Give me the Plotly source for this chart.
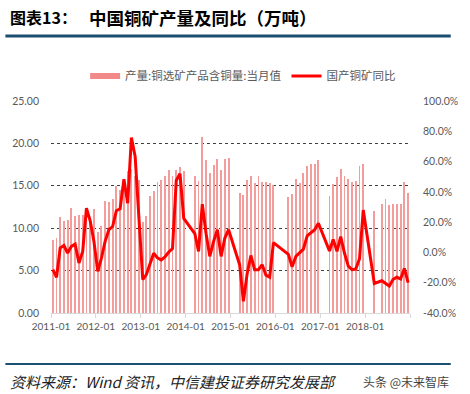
import pandas as pd
import plotly.graph_objects as go

# ---------------- data ----------------
start_month = "2011-01"
n_months = 96  # 2011-01 .. 2018-12
months = [p.strftime("%Y-%m") for p in pd.period_range(start_month, periods=n_months, freq="M")]

# 产量:铜选矿产品含铜量:当月值 (万吨), None = not published
production = [
    8.6, 8.8, 11.3, 10.9, 11.0, 12.4, 11.4, 11.5, 11.6, 12.2, 11.3, 12.3,   # 2011
    9.5, 10.3, 13.2, 13.1, 13.4, 15.0, 14.5, 15.8, 16.7, 17.0, 16.2, 15.7,  # 2012
    10.7, 11.4, 13.8, 14.4, 15.4, 15.7, 16.2, 16.9, 16.1, 16.9, 17.2, 16.7, # 2013
    None, None, 16.1, 15.6, 20.7, 18.0, 16.5, 17.4, 18.2, 16.9, 18.2, 18.3, # 2014
    None, None, 14.2, 13.9, 15.7, 16.2, 15.3, 16.2, 15.4, 15.4, 15.3, 15.1, # 2015
    None, None, None, 13.7, 14.0, 15.8, 15.3, 16.5, 17.3, 17.6, 17.6, 18.0, # 2016
    None, None, 13.8, 15.2, 16.0, 17.0, 16.2, 15.8, 15.5, 15.6, 17.3, 17.6, # 2017
    None, None, 12.0, None, 12.9, 13.5, 12.7, 12.9, 12.9, 12.9, 15.5, 14.1, # 2018
]

# 国产铜矿同比 (%)
yoy = [
    -11.4, -16.5, 2.9, 4.6, -0.4, 4.0, 5.5, -7.0, 0.7, 29.2, 20.9, 7.3,      # 2011
    -12.5, -3.7, 7.3, 15.0, 17.1, 27.5, 28.8, 48.4, 32.5, 75.8, 63.3, 22.0,  # 2012
    -17.9, -14.6, -7.5, -0.5, -3.6, -4.9, -3.0, 0.3, 2.5, 47.5, 52.0, 22.5,  # 2013
    None, None, 12.5, 0.7, 31.9, 12.5, -2.6, 7.3, 15.0, -2.6, 9.5, 15.0,     # 2014
    None, None, -8.1, -32.3, -14.0, -2.0, -11.4, -11.4, -8.1, -15.0, -16.3, 6.5,  # 2015
    None, None, None, -1.3, -9.5, -2.6, 0.0, 2.2, 11.0, 12.8, 15.0, 19.3,    # 2016
    None, None, 1.0, 8.6, 0.7, 10.5, -0.4, -9.0, -11.4, -11.0, -4.2, 28.0,   # 2017
    None, None, -20.5, None, -18.7, -20.2, -22.2, -17.8, -16.4, -17.5, -10.6, -20.0,  # 2018
]

left_ticks = [0, 5, 10, 15, 20, 25]
right_ticks = [-40, -20, 0, 20, 40, 60, 80, 100]
right_ticktext = [f"{v:.1f}%" for v in right_ticks]
year_ticks = [f"{y}-01-01" for y in range(2011, 2020)]
year_ticktext = [f"{y}-01" for y in range(2011, 2019)] + [""]

bar_name = "产量:铜选矿产品含铜量:当月值"
line_name = "国产铜矿同比"

# ---------------- styles ----------------
BAR_COLOR = "#F29C9C"
LINE_COLOR = "#FF0000"
TEXT_GRAY = "#595959"
NUM_FONT = "Lato, Noto Sans CJK SC, sans-serif"
CJK_FONT = "Noto Sans CJK SC, sans-serif"
MONTH_MS = 30.44 * 24 * 3600 * 1000

fig = go.Figure()

fig.add_trace(go.Bar(
    x=months, y=production, name=bar_name, showlegend=False,
    xperiod="M1", xperiodalignment="middle",
    width=0.24 * MONTH_MS,
    marker=dict(color=BAR_COLOR, line=dict(width=0)),
    yaxis="y",
))
# legend swatch for the bars (wide flat swatch as in the original)
fig.add_trace(go.Scatter(
    x=[None], y=[None], mode="lines", name=bar_name,
    line=dict(color="#F28A8A", width=6), yaxis="y",
))
fig.add_trace(go.Scatter(
    x=months, y=yoy, name=line_name, mode="lines",
    xperiod="M1", xperiodalignment="middle",
    connectgaps=True,
    line=dict(color=LINE_COLOR, width=3),
    yaxis="y2",
))

fig.update_layout(
    width=470, height=394,
    margin=dict(l=47, r=53, t=101, b=81),
    paper_bgcolor="white", plot_bgcolor="white",
    bargap=0,
    showlegend=True,
    legend=dict(
        orientation="h", x=0.095, xanchor="left", y=1.118, yanchor="middle",
        font=dict(family=CJK_FONT, size=11.5, color=TEXT_GRAY),
        bgcolor="rgba(0,0,0,0)", itemwidth=30, tracegroupgap=0,
    ),
    xaxis=dict(
        type="date", range=["2011-01-01", "2019-01-01"],
        tickvals=year_ticks, ticktext=year_ticktext, tickangle=0,
        showgrid=False, showline=True, linecolor="#D9D9D9", linewidth=1,
        ticks="outside", ticklen=4, tickcolor="#D9D9D9",
        tickfont=dict(family=NUM_FONT, size=10, color=TEXT_GRAY),
        fixedrange=True,
    ),
    yaxis=dict(
        range=[0, 25], tickvals=left_ticks, tickformat=".2f",
        showgrid=True, gridcolor="#404040", griddash="dot", gridwidth=1,
        zeroline=True, zerolinecolor="#D9D9D9", zerolinewidth=1,
        showline=False, ticks="", ticklabelstandoff=11,
        tickfont=dict(family=NUM_FONT, size=10.5, color=TEXT_GRAY),
    ),
    yaxis2=dict(
        range=[-40, 100], tickvals=right_ticks, ticktext=right_ticktext,
        overlaying="y", side="right", showgrid=False, zeroline=False,
        showline=False, ticks="", ticklabelstandoff=12,
        tickfont=dict(family=NUM_FONT, size=10.5, color=TEXT_GRAY),
    ),
)

# title, rules and source note
def px_x(px):
    return (px - 47) / 370.0

def px_y(py):
    return (313 - py) / 212.0

fig.add_annotation(x=px_x(3), y=px_y(17), xref="paper", yref="paper",
                   xanchor="left", yanchor="middle", showarrow=False,
                   text="<b>图表13：</b>",
                   font=dict(family=CJK_FONT, size=16, color="#000000"))
fig.add_annotation(x=px_x(84), y=px_y(17), xref="paper", yref="paper",
                   xanchor="left", yanchor="middle", showarrow=False,
                   text="<b>中国铜矿产量及同比（万吨）</b>",
                   font=dict(family=CJK_FONT, size=17.5, color="#000000"))
fig.add_shape(type="line", xref="paper", yref="paper",
              x0=px_x(0), x1=px_x(459), y0=px_y(36), y1=px_y(36),
              line=dict(color="#1A4F72", width=3))
fig.add_shape(type="line", xref="paper", yref="paper",
              x0=px_x(0), x1=px_x(459), y0=px_y(364), y1=px_y(364),
              line=dict(color="#1A4F72", width=2))
fig.add_annotation(x=px_x(3), y=px_y(381), xref="paper", yref="paper",
                   xanchor="left", yanchor="middle", showarrow=False,
                   text="<i>资料来源：Wind 资讯，中信建投证券研究发展部</i>",
                   font=dict(family=CJK_FONT, size=15, color="#222222"))
fig.add_annotation(x=px_x(459), y=px_y(381), xref="paper", yref="paper",
                   xanchor="right", yanchor="middle", showarrow=False,
                   text="头条 @未来智库",
                   font=dict(family=CJK_FONT, size=12, color="#444444"))

# remove the browser's default page margin so the figure sits at the window corner
fig.write_html("out.html", config={"displayModeBar": False},
               post_script="document.body.style.margin='0';")
